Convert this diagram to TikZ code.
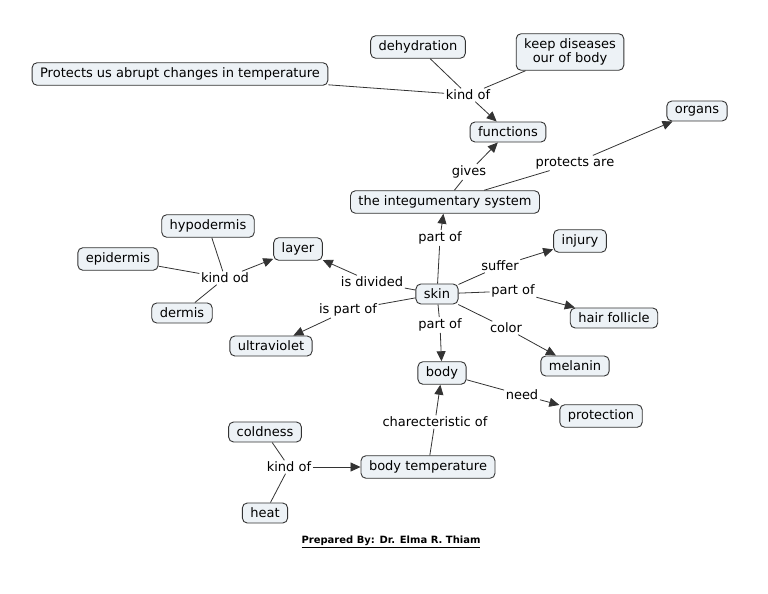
\documentclass[tikz,border=0pt]{standalone}
\usepackage{fontspec}
\setmainfont{DejaVu Sans}
\usetikzlibrary{arrows.meta}
\definecolor{boxfill}{HTML}{EDF2F6}
\tikzset{
 cbox/.style={draw=black!80,fill=boxfill,rounded corners=5pt,line width=0.9pt,inner xsep=8pt,inner ysep=5pt,font=\fontsize{13}{14}\selectfont,align=center},
 lab/.style={fill=white,inner sep=1.5pt,font=\fontsize{13}{14}\selectfont},
 ln/.style={draw=black!80,line width=0.8pt},
 ar/.style={ln,-{Triangle[length=10pt,width=9pt]}}
}
\begin{document}
\begin{tikzpicture}[x=1pt,y=-1pt]
\useasboundingbox (0,0) rectangle (768,594);
\node[cbox] (dehy) at (418,47) {dehydration};
\node[cbox] (keep) at (570,52) {keep diseases\\our of body};
\node[cbox] (prot) at (180,74) {Protects us abrupt changes in temperature};
\node[lab] (k1) at (468,95) {kind of};
\node[cbox] (func) at (508,132) {functions};
\node[cbox] (org) at (697,111) {organs};
\node[lab] (pa) at (575,163) {protects are};
\node[lab] (gives) at (469,172) {gives};
\node[cbox] (integ) at (445,202) {the integumentary system};
\node[lab] (po1) at (440,238) {part of};
\node[cbox] (hypo) at (208,226) {hypodermis};
\node[cbox] (epi) at (118,259) {epidermis};
\node[cbox] (layer) at (298,249) {layer};
\node[lab] (kod) at (225,278) {kind od};
\node[cbox] (derm) at (182,313) {dermis};
\node[lab] (isd) at (372,282) {is divided};
\node[cbox] (skin) at (437,294) {skin};
\node[lab] (suf) at (500,266) {suffer};
\node[cbox] (inj) at (580,241) {injury};
\node[lab] (po2) at (513,291) {part of};
\node[cbox] (hair) at (614,318) {hair follicle};
\node[lab] (ipo) at (348,310) {is part of};
\node[cbox] (ultra) at (271,346) {ultraviolet};
\node[lab] (po3) at (440,325) {part of};
\node[lab] (col) at (506,328) {color};
\node[cbox] (mel) at (575,366) {melanin};
\node[cbox] (body) at (442,373) {body};
\node[lab] (need) at (522,395) {need};
\node[cbox] (protn) at (601,416) {protection};
\node[lab] (char) at (435,422) {charecteristic of};
\node[cbox] (cold) at (265,432) {coldness};
\node[lab] (k2) at (289,467) {kind of};
\node[cbox] (btemp) at (428,467) {body temperature};
\node[cbox] (heat) at (265,513) {heat};
\node[font=\fontsize{10}{12}\selectfont\bfseries] (prep) at (391,542) {\underline{Prepared By: Dr. Elma R. Thiam}};

\draw[ln] (dehy) -- (k1); \draw[ln] (keep) -- (k1); \draw[ln] (prot) -- (k1);
\draw[ar] (k1) -- (func);
\draw[ln] (integ) -- (gives); \draw[ar] (gives) -- (func);
\draw[ln] (integ) -- (pa); \draw[ar] (pa) -- (org);
\draw[ln] (skin) -- (po1); \draw[ar] (po1) -- (integ);
\draw[ln] (hypo) -- (kod); \draw[ln] (epi) -- (kod); \draw[ln] (derm) -- (kod);
\draw[ar] (kod) -- (layer);
\draw[ln] (skin) -- (isd); \draw[ar] (isd) -- (layer);
\draw[ln] (skin) -- (suf); \draw[ar] (suf) -- (inj);
\draw[ln] (skin) -- (po2); \draw[ar] (po2) -- (hair);
\draw[ln] (skin) -- (ipo); \draw[ar] (ipo) -- (ultra);
\draw[ln] (skin) -- (po3); \draw[ar] (po3) -- (body);
\draw[ln] (skin) -- (col); \draw[ar] (col) -- (mel);
\draw[ln] (body) -- (need); \draw[ar] (need) -- (protn);
\draw[ln] (btemp) -- (char); \draw[ar] (char) -- (body);
\draw[ln] (cold) -- (k2); \draw[ln] (heat) -- (k2); \draw[ar] (k2) -- (btemp);
\end{tikzpicture}
\end{document}
